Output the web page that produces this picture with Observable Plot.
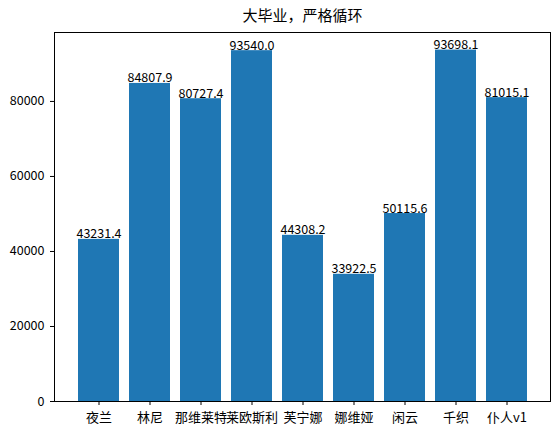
<!DOCTYPE html>
<html>
<head>
<meta charset="utf-8">
<script src="https://cdn.jsdelivr.net/npm/d3@7"></script>
<script src="https://cdn.jsdelivr.net/npm/@observablehq/plot@0.6"></script>
<style>
  body { margin: 0; background: #fff; }
  #Chart svg { font-family: "Noto Sans CJK SC", sans-serif; }
</style>
</head>
<body>
<div id="Chart"></div>
<script>
var names = ["夜兰", "林尼", "那维莱特", "莱欧斯利", "芙宁娜", "娜维娅", "闲云", "千织", "仆人v1"];
var values = [43231.4, 84807.9, 80727.4, 93540.0, 44308.2, 33922.5, 50115.6, 93698.1, 81015.1];
var yTicks = [0, 20000, 40000, 60000, 80000];
var title = "大毕业，严格循环";

function draw_chart() {
  var res = names.map((n, i) => ({ name: n, value: values[i] }));
  var options = {
    width: 560,
    height: 434,
    marginTop: 32,
    marginBottom: 33,
    marginLeft: 54,
    marginRight: 10,
    style: { background: "white", fontSize: "12px", color: "black" },
    x: { type: "band", domain: names, paddingInner: 0.2, paddingOuter: 0.44, label: null },
    y: { domain: [0, 93698.1 * 1.05], label: null },
    marks: [
      Plot.barY(res, { x: "name", y: "value", fill: "#1f77b4" }),
      // value on top of each bar
      Plot.text(res, {
        x: "name",
        y: "value",
        text: (d) => d.value.toFixed(1),
        lineAnchor: "bottom",
        dy: -1,
        fontSize: 12.5,
        fill: "black",
      }),
      Plot.axisY({ ticks: yTicks, tickFormat: (d) => String(d), tickSize: 4, tickPadding: 6, fontSize: 12.5 }),
      Plot.axisX({ tickSize: 4, tickPadding: 7, fontSize: 13 }),
      Plot.frame({ stroke: "black" }),
      Plot.text([title], { frameAnchor: "top", dy: -22, lineAnchor: "top", fontSize: 15, fill: "black" }),
    ],
  };
  document.getElementById("Chart").append(Plot.plot(options));
}
draw_chart();
</script>
</body>
</html>
